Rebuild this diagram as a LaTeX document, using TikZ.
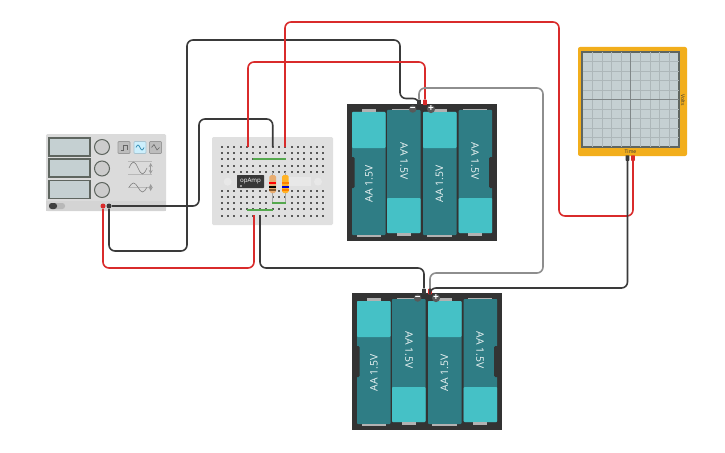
\documentclass[tikz,border=0pt]{standalone}
\usepackage{fontspec}
\setmainfont{Open Sans}
\definecolor{wireblack}{HTML}{3A3A3A}
\definecolor{wirered}{HTML}{D92B2B}
\definecolor{wiregray}{HTML}{8E8E8E}
\definecolor{lcd}{HTML}{C5D0D2}
\definecolor{framegray}{HTML}{5F6660}
\definecolor{holderdark}{HTML}{333333}
\definecolor{celldark}{HTML}{2F7D85}
\definecolor{celllight}{HTML}{45C1C6}
\definecolor{jumpergreen}{HTML}{55A84E}
\definecolor{scopeorange}{HTML}{F2AE1C}
\begin{document}
\begin{tikzpicture}[x=0.75pt,y=-0.75pt,
  boxsize/.style 2 args = {minimum width=#1*0.75pt, minimum height=#2*0.75pt, inner sep=0pt},
  wire/.style = {line width=1.2pt, rounded corners=4.5pt},
  blackwire/.style = {wire, draw=wireblack},
  redwire/.style = {wire, draw=wirered},
  graywire/.style = {wire, draw=wiregray},
  jumper/.style = {line width=1.4pt, draw=jumpergreen},
  display/.style = {boxsize={41}{18}, fill=lcd, draw=framegray, line width=1pt},
  knob/.style = {circle, boxsize={15}{15}, fill=black!20, draw=framegray, line width=0.8pt},
  wavebtn/.style = {boxsize={12}{12}, fill=black!26, draw=black!40, line width=0.5pt, rounded corners=0.7pt},
  pin/.style = {boxsize={3.6}{5.5}, rounded corners=0.4pt},
  round pin/.style = {circle, boxsize={5}{5}},
  terminal/.style = {circle, boxsize={7.5}{7.5}, fill=black!65, text=white, font=\fontsize{7.5}{7.5}\selectfont\bfseries},
  lead/.style = {line width=0.6pt, draw=black!35},
  cell label/.style = {text=white!92!celldark, font=\fontsize{7.8}{9}\selectfont, inner sep=0pt}]

\useasboundingbox (0,0) rectangle (725,453);
\fill[white] (0,0) rectangle (725,453);

% power supply
\node[boxsize={120}{77}, fill=black!14, rounded corners=1pt] (psu) at (106,172.5) {};
\fill[black!17] (46,201) rectangle (166,211);
\node[display] (lcd1) at (69.5,147) {};
\node[display] (lcd2) at (69.5,168) {};
\node[display] (lcd3) at (69.5,189.7) {};
\node[knob] (knob1) at (102,147) {};
\node[knob] (knob2) at (102,168.5) {};
\node[knob] (knob3) at (102,190) {};
\node[wavebtn] (btn1) at (124,147.5) {};
\node[wavebtn, fill=white!80!cyan, draw=cyan!50!black!40!white] (btn2) at (140,147.5) {};
\node[wavebtn] (btn3) at (155.5,147.5) {};
\draw[line width=0.45pt, black!60] (120.5,150) -- (123.5,150) -- (123.5,145) -- (127,145) -- (127,150);
\draw[line width=0.6pt, cyan!70!black] (136,147.5) sin (138,145) cos (140,147.5) sin (142,150) cos (144,147.5);
\draw[line width=0.45pt, black!60] (151.5,147.5) -- (154,144.5) -- (157,150) -- (159.5,147.5);
\draw[line width=0.4pt, black!28] (128,161.7) -- (152,161.7) (128,174.3) -- (152,174.3) (128,187.3) -- (152,187.3);
\draw[line width=0.45pt, black!50] (129,168) sin (133.5,162) cos (138,168) sin (142.5,174) cos (147,168);
\draw[line width=0.45pt, black!50] (129,187.3) sin (133.5,183) cos (138,187.3) sin (142.5,192) cos (147,187.3);
\draw[line width=0.35pt, black!40, <->, >=stealth] (150.7,163) -- (150.7,174);
\draw[line width=0.35pt, black!40, <->, >=stealth] (150.7,184) -- (150.7,191);
\node[boxsize={16}{6}, rounded corners=2pt, fill=black!28] (switch) at (57,206) {};
\node[boxsize={8}{6}, rounded corners=2pt, fill=black!75] (switchknob) at (53,206) {};
\node[round pin, fill=wirered] (psuRed) at (103,206) {};
\node[round pin, fill=wireblack] (psuBlack) at (109,206) {};

% breadboard
\node[boxsize={121}{88}, fill=black!12, rounded corners=1pt] (board) at (272.5,181) {};
\node[boxsize={26}{9}, fill=black!9] (groove) at (298,181.7) {};
\node[circle, boxsize={8}{8}, fill=black!9] (hole1) at (227.7,181.7) {};
\node[circle, boxsize={8}{8}, fill=black!9] (hole2) at (318,181.7) {};
\foreach \r in {146.7,152.7,159.3,165.5,171.6,190.7,196.7,203,209.3,215.7}
  \foreach \c in {0,...,16}
    \fill[black!65] (221.7+6.35*\c-1,\r-1) rectangle ++(2,2);
\draw[jumper] (253,159.3) -- (286,159.3);
\draw[jumper] (272,203) -- (286,203);
\draw[jumper] (247,209.7) -- (273,209.7);
\node[boxsize={27}{13}, fill=black!78, rounded corners=0.5pt, text=white, font=\fontsize{4.6}{5}\selectfont] (opamp) at (250.5,181.5) {opAmp};
\fill[white] (241,186) circle (0.8);
\draw[lead] (272.7,171.7) -- (272.7,201.7);
\draw[lead] (285.3,171.7) -- (285.3,201.7);
\node[boxsize={6.6}{18}, fill=orange!45!brown!65!white, rounded corners=1.2pt] (res1) at (272.7,184) {};
\node[boxsize={6.6}{18}, fill=orange!70!yellow!85!white, rounded corners=1.2pt] (res2) at (285.3,184) {};
\foreach \y/\ca/\cb in {183.3/red/orange, 186.7/black/blue!80!black, 190/brown!70!black/orange}{
  \fill[\ca] (269.4,\y-0.9) rectangle (276,\y+0.9);
  \fill[\cb] (282,\y-0.9) rectangle (288.6,\y+0.9);
}
\coordinate (bbTopA) at (248,147);
\coordinate (bbTopB) at (272.7,147);
\coordinate (bbTopC) at (285,147);
\coordinate (bbBotA) at (254,215);
\coordinate (bbBotB) at (260,215);

% battery packs
\foreach \b/\dx/\dy in {A/0/0,B/5/189}{
\begin{scope}[shift={(\dx,\dy)}]
  \node[boxsize={150}{137}, fill=holderdark] (pack\b) at (422,172.5) {};
  \foreach \n/\cl/\ct/\cb/\lt/\lb/\tx/\ty/\rot in {1/352/112/235/112/148/369/184/90,
      2/387/110/233/198/233/404/161/-90,
      3/423/112/235/112/148/439.5/184/90,
      4/458.7/110/233/198/233/475/161/-90}{
    \fill[celldark, rounded corners=0.7pt] (\cl,\ct) rectangle (\cl+33.5,\cb);
    \fill[celllight, rounded corners=0.7pt] (\cl,\lt) rectangle (\cl+33.5,\lb);
    \node[cell label, rotate=\rot] (cell\b\n) at (\tx,\ty) {AA 1.5V};
  }
  \fill[holderdark, rounded corners=1pt] (350,157) rectangle (354.7,188);
  \fill[holderdark, rounded corners=1pt] (489,157) rectangle (494,188);
  \foreach \xa/\xb/\ya/\yb in {362/376/109/112, 392/415/109/110.2, 428/447/109/112, 463/487/109/110.2,
      357/381/235/237, 397/411/233/236, 427/452/235/237, 468/482/233/236}
    \fill[black!30] (\xa,\ya) rectangle (\xb,\yb);
  \node[terminal] (minus\b) at (412.7,109) {−};
  \node[terminal] (plus\b) at (431,109) {+};
  \node[pin, fill=wireblack] (pinBlack\b) at (419,102.5) {};
  \node[pin, fill=wirered] (pinRed\b) at (425,102.5) {};
\end{scope}
}

% oscilloscope
\node[boxsize={109}{109}, fill=scopeorange, rounded corners=1.5pt] (scope) at (632.5,101.5) {};
\node[boxsize={97}{95}, fill=lcd, draw=framegray, line width=1pt] (screen) at (630.5,99.5) {};
\foreach \k in {-4,...,4}{
  \draw[line width=0.3pt, lcd!88!black] (630.5+9.6*\k,52.5) -- (630.5+9.6*\k,146.5);
  \draw[line width=0.3pt, lcd!88!black] (582.5,99.5+9.5*\k) -- (678.5,99.5+9.5*\k);
}
\draw[line width=0.4pt, lcd!65!black] (630.5,52.5) -- (630.5,146.5) (582.5,99.5) -- (678.5,99.5);
\node[font=\fontsize{3.8}{4}\selectfont, text=black!80, inner sep=0pt] (timelabel) at (630.5,151.5) {Time};
\node[font=\fontsize{3.8}{4}\selectfont, text=black!80, inner sep=0pt, rotate=-90] (voltlabel) at (683,100) {Volts};
\node[pin, fill=wireblack] (scopeBlack) at (627.5,158) {};
\node[pin, fill=wirered] (scopeRed) at (633,158) {};

% wires
\draw[blackwire] (psuBlack.east) -- (199,206) -- (199,119) -- (272.7,119) -- (bbTopB);
\draw[blackwire] (psuBlack.south) -- (109,251) -- (187,251) -- (187,40) -- (400,40) -- (400,98.5) -- (419,98.5) -- (pinBlackA.center);
\draw[redwire] (psuRed.south) -- (103,268) -- (254,268) -- (bbBotA);
\draw[blackwire] (bbBotB) -- (260,268) -- (424,268) -- (pinBlackB.north);
\draw[redwire] (bbTopA) -- (248,62) -- (425,62) -- (pinRedA.north);
\draw[redwire] (bbTopC) -- (285,22) -- (559,22) -- (559,216) -- (633,216) -- (scopeRed.south);
\draw[graywire] (pinBlackA.north) -- (419,88) -- (543,88) -- (543,273) -- (430,273) -- (pinRedB.north);
\draw[blackwire] (pinRedB.north) -- (430,288) -- (627.5,288) -- (scopeBlack.south);

\end{tikzpicture}
\end{document}
